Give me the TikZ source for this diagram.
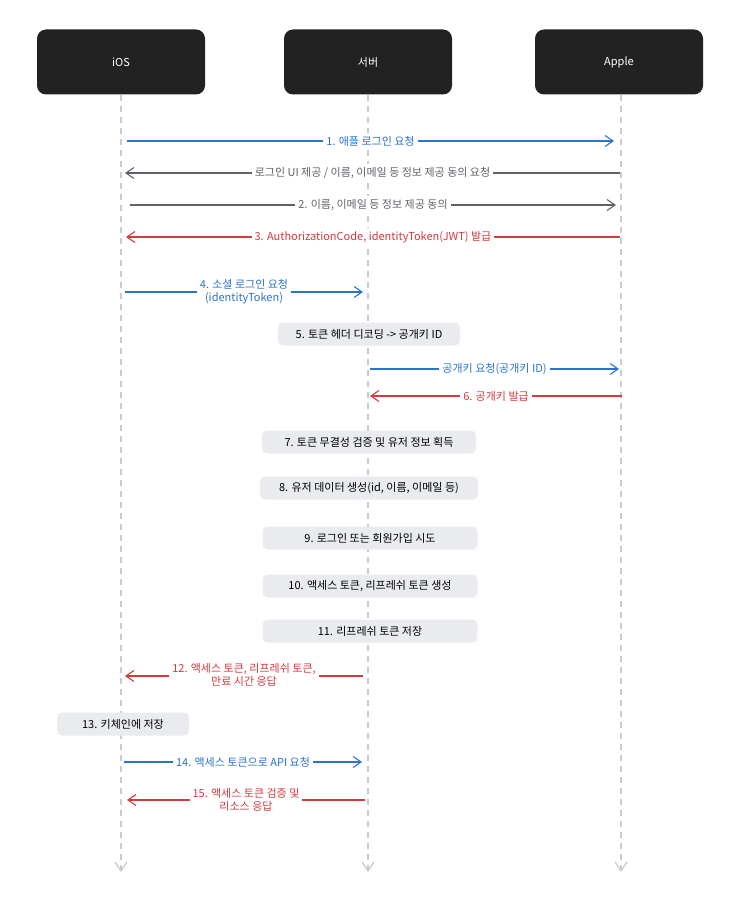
\documentclass[tikz,border=0pt]{standalone}
\usepackage{fontspec}
\setmainfont{Noto Sans CJK KR}
\usetikzlibrary{arrows.meta}
\definecolor{hdr}{HTML}{222222}
\definecolor{bl}{HTML}{2A73D0}
\definecolor{rd}{HTML}{D6393B}
\definecolor{gy}{HTML}{5F6368}
\definecolor{bx}{HTML}{E9EBEE}
\definecolor{ll}{HTML}{C8CBCF}
\tikzset{
 hdrbox/.style={fill=hdr,rounded corners=9pt,minimum width=168pt,minimum height=65pt,text=white,font=\fontsize{11}{13}\selectfont},
 notebox/.style={fill=bx,rounded corners=5pt,minimum height=23pt,font=\fontsize{11}{13}\selectfont,text=black},
 lifeline/.style={draw=ll,dashed,dash pattern=on 6pt off 5pt,line width=1.3pt,-{Straight Barb[length=9pt,width=12pt,line width=1.2pt]}},
 msg/.style={line width=1.1pt,-{Straight Barb[length=8pt,width=11pt,line width=1.1pt]}},
 lab/.style={fill=white,inner sep=3pt,font=\fontsize{11}{13}\selectfont,align=center},
}
\begin{document}
\begin{tikzpicture}[x=1pt,y=-1pt]
\useasboundingbox (0,0) rectangle (750,901);
\node[hdrbox] (ios) at (121,62) {iOS};
\node[hdrbox] (srv) at (368,62) {서버};
\node[hdrbox] (apl) at (619,62) {Apple};
\coordinate (iosE) at (121,872);
\coordinate (srvE) at (368,872);
\coordinate (aplE) at (621,872);
\draw[lifeline] (121,95) -- (iosE);
\draw[lifeline] (368,95) -- (srvE);
\draw[lifeline] (621,95) -- (aplE);
% messages
\coordinate (a1) at (127,141); \coordinate (b1) at (614,141);
\draw[msg,bl] (a1) -- node[lab,text=bl]{1. 애플 로그인 요청} (b1);
\coordinate (a2) at (620,173); \coordinate (b2) at (125,173);
\draw[msg,gy] (a2) -- node[lab,text=gy]{로그인 UI 제공 / 이름, 이메일 등 정보 제공 동의 요청} (b2);
\coordinate (a3) at (130,205); \coordinate (b3) at (616,205);
\draw[msg,gy] (a3) -- node[lab,text=gy]{2. 이름, 이메일 등 정보 제공 동의} (b3);
\coordinate (a4) at (620,237); \coordinate (b4) at (126,237);
\draw[msg,rd] (a4) -- node[lab,text=rd]{3. AuthorizationCode, identityToken(JWT) 발급} (b4);
\coordinate (a5) at (125,292); \coordinate (b5) at (363,292);
\draw[msg,bl] (a5) -- node[lab,text=bl,pos=0.5]{4. 소셜 로그인 요청\\(identityToken)} (b5);
\node[notebox,minimum width=182pt] (n5) at (369,334) {5. 토큰 헤더 디코딩 -> 공개키 ID};
\coordinate (a6) at (370,369); \coordinate (b6) at (619,369);
\draw[msg,bl] (a6) -- node[lab,text=bl]{공개키 요청(공개키 ID)} (b6);
\coordinate (a7) at (622,396); \coordinate (b7) at (370,396);
\draw[msg,rd] (a7) -- node[lab,text=rd]{6. 공개키 발급} (b7);
\node[notebox,minimum width=214pt] (n7) at (369,442) {7. 토큰 무결성 검증 및 유저 정보 획득};
\node[notebox,minimum width=218pt] (n8) at (369,488) {8. 유저 데이터 생성(id, 이름, 이메일 등)};
\node[notebox,minimum width=215pt] (n9) at (370,538) {9. 로그인 또는 회원가입 시도};
\node[notebox,minimum width=215pt] (n10) at (370,586) {10. 액세스 토큰, 리프레쉬 토큰 생성};
\node[notebox,minimum width=215pt] (n11) at (370,631) {11. 리프레쉬 토큰 저장};
\coordinate (a12) at (363,676); \coordinate (b12) at (125,676);
\draw[msg,rd] (a12) -- node[lab,text=rd,pos=0.5,yshift=1pt]{12. 액세스 토큰, 리프레쉬 토큰,\\만료 시간 응답} (b12);
\node[notebox,minimum width=132pt] (n13) at (123,724) {13. 키체인에 저장};
\coordinate (a14) at (124,762); \coordinate (b14) at (362,762);
\draw[msg,bl] (a14) -- node[lab,text=bl]{14. 액세스 토큰으로 API 요청} (b14);
\coordinate (a15) at (365,800); \coordinate (b15) at (127,800);
\draw[msg,rd] (a15) -- node[lab,text=rd]{15. 액세스 토큰 검증 및\\리소스 응답} (b15);
\end{tikzpicture}
\end{document}
